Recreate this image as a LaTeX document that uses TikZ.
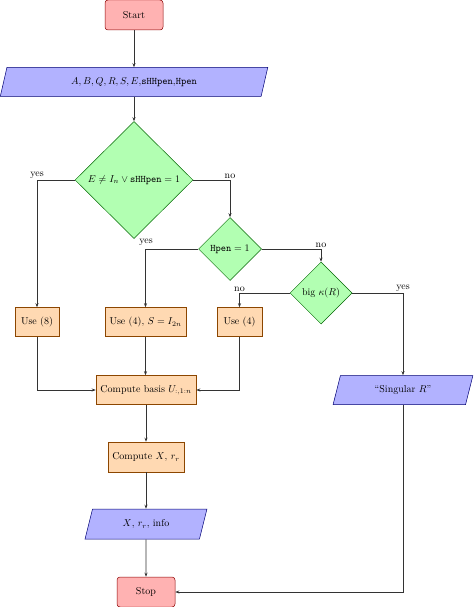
\documentclass[tikz,border=0pt]{standalone}
\usetikzlibrary{shapes.geometric,arrows.meta}
\begin{document}
\begin{tikzpicture}[x=1pt,y=-1pt,
  every node/.style={font=\fontsize{10}{12}\selectfont},
  term/.style={rectangle, rounded corners=3pt, draw=red!55!black, fill=red!30, minimum width=58pt, minimum height=30pt, inner sep=0pt, line width=0.5pt},
  io/.style={trapezium, trapezium left angle=70, trapezium right angle=110, trapezium stretches=true, draw=blue!45!black, fill=blue!30, minimum height=29pt, inner sep=0pt, line width=0.5pt},
  decision/.style={diamond, draw=green!40!black, fill=green!30, inner sep=0pt, line width=0.5pt},
  proc/.style={rectangle, draw=orange!55!black, fill=orange!30, minimum height=29pt, inner sep=0pt, line width=0.5pt},
  conn/.style={draw=black!80, line width=0.6pt, -{Stealth[length=4pt,width=3pt]}},
  lbl/.style={inner sep=1pt}
]
\useasboundingbox (0,0) rectangle (474,607);
\node[term] (start) at (134,15) {Start};
\node[io, minimum width=268pt] (in) at (134,82) {$A,B,Q,R,S,E,$\texttt{sHHpen},\texttt{Hpen}};
\node[decision, minimum width=118pt, minimum height=117pt] (d1) at (134,180) {$E\neq I_n\vee\texttt{sHHpen}=1$};
\node[decision, minimum width=63pt, minimum height=63pt] (d2) at (230,249) {$\texttt{Hpen}=1$};
\node[decision, minimum width=62pt, minimum height=62pt] (d3) at (321,293) {big $\kappa(R)$};
\node[proc, minimum width=44pt] (u8) at (37,322) {Use (8)};
\node[proc, minimum width=81pt] (us) at (145.5,322) {Use (4), $S=I_{2n}$};
\node[proc, minimum width=45pt] (u4) at (239.5,322) {Use (4)};
\node[proc, minimum width=100pt] (basis) at (146,390) {Compute basis $U_{:,1:n}$};
\node[io, minimum width=140pt] (sing) at (403,390) {``Singular $R$''};
\node[proc, minimum width=76pt, minimum height=30pt] (cx) at (146,457) {Compute $X$, $r_r$};
\node[io, minimum width=122pt, minimum height=30pt] (out) at (146,524) {$X$, $r_r$, info};
\node[term] (stop) at (146,592) {Stop};

\draw[conn] (start) -- (in);
\draw[conn] (in.south -| d1.north) -- (d1.north);
\draw[conn] (d1.west) -| node[pos=0.5, above, lbl] (l1) {yes} (u8.north);
\draw[conn] (d1.east) -| node[pos=0.5, above, lbl] (l2) {no} (d2.north);
\node[lbl] (l3) at (146,242) {yes};
\draw[conn] (d2.west) -| (us.north);
\draw[conn] (d2.east) -| node[pos=0.5, above, lbl] (l4) {no} (d3.north);
\draw[conn] (d3.west) -| node[pos=0.5, above, lbl] (l5) {no} (u4.north);
\draw[conn] (d3.east) -| node[pos=0.5, above, lbl] (l6) {yes} (sing.north);
\draw[conn] (u8.south) |- (basis.west);
\draw[conn] (us.south) -- (us.south |- basis.north);
\draw[conn] (u4.south) |- (basis.east);
\draw[conn] (basis) -- (cx);
\draw[conn] (cx) -- (out);
\draw[conn] (out) -- (stop);
\draw[conn] (sing.south) |- (stop.east);
\end{tikzpicture}
\end{document}
